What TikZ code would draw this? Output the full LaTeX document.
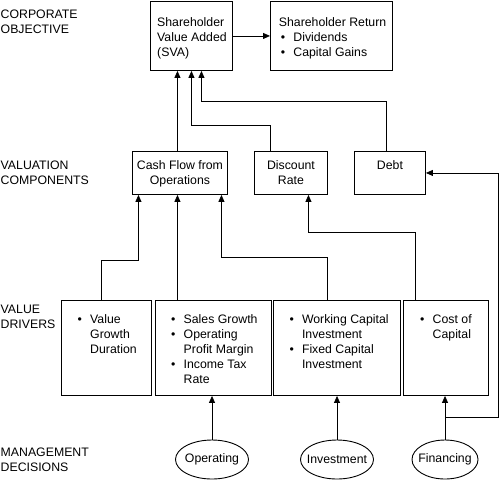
\documentclass[tikz,border=0pt]{standalone}
\usepackage{fontspec}
\setmainfont{Liberation Sans}
\usetikzlibrary{shapes.geometric, arrows.meta, calc}

\newcommand{\bul}{\makebox[12.5pt][l]{\textbullet}}

\begin{document}
\begin{tikzpicture}[x=1pt, y=-1pt,
          every node/.style={font=\fontsize{12.3}{15}\selectfont},
          box/.style={rectangle, draw, line width=0.9pt, anchor=north west,
                      inner sep=0pt},
          txt/.style={inner sep=0pt, anchor=north west},
          ctxt/.style={inner sep=0pt, anchor=north},
          dec/.style={ellipse, draw, line width=0.9pt, minimum width=73pt,
                      minimum height=39pt, inner sep=0pt},
          arr/.style={-{Triangle[length=7pt, width=6pt]}, line width=0.8pt}
        ]
        \useasboundingbox (0,0) rectangle (502,480);

        % Level labels
        \node[txt] (lco) at (0.5,7.9)   {\begin{tabular}{@{}l@{}}CORPORATE\\OBJECTIVE\end{tabular}};
        \node[txt] (lvc) at (0.5,158.9) {\begin{tabular}{@{}l@{}}VALUATION\\COMPONENTS\end{tabular}};
        \node[txt] (lvd) at (0.5,302.9) {\begin{tabular}{@{}l@{}}VALUE\\DRIVERS\end{tabular}};
        \node[txt] (lmd) at (0.5,445.9) {\begin{tabular}{@{}l@{}}MANAGEMENT\\DECISIONS\end{tabular}};

        % Corporate objective
        \node[box, minimum width=82pt, minimum height=69pt]  (sva) at (150,1) {};
        \node[box, minimum width=122pt, minimum height=69pt] (ret) at (270,1) {};
        \node[txt] at ($(sva.north west)+(7,15)$)
              {\begin{tabular}{@{}l@{}}Shareholder\\Value Added\\(SVA)\end{tabular}};
        \node[txt] at ($(ret.north west)+(8.7,15)$)
              {\begin{tabular}{@{}l@{}l@{}}\multicolumn{2}{@{}l@{}}{Shareholder Return}\\
               \hspace{2pt}\bul & Dividends\\ \hspace{2pt}\bul & Capital Gains\end{tabular}};

        % Valuation components
        \node[box, minimum width=95pt, minimum height=43pt] (cfo)  at (132,151) {};
        \node[box, minimum width=73pt, minimum height=43pt] (dr)   at (254,151) {};
        \node[box, minimum width=71pt, minimum height=43pt] (debt) at (354,151) {};
        \node[ctxt] at ($(cfo.north)+(0,7.8)$)
              {\begin{tabular}{@{}c@{}}Cash Flow from\\Operations\end{tabular}};
        \node[ctxt] at ($(dr.north)+(0,7.8)$)
              {\begin{tabular}{@{}c@{}}Discount\\Rate\end{tabular}};
        \node[ctxt] at ($(debt.north)+(0,7.8)$)
              {\begin{tabular}{@{}c@{}}Debt\end{tabular}};

        % Value drivers
        \node[box, minimum width=90pt,  minimum height=95pt] (vd1) at (61,300)  {};
        \node[box, minimum width=116pt, minimum height=95pt] (vd2) at (155,300) {};
        \node[box, minimum width=127pt, minimum height=95pt] (vd3) at (273,300) {};
        \node[box, minimum width=85pt,  minimum height=95pt] (vd4) at (403,300) {};
        \node[txt] at ($(vd1.north west)+(16.5,12.8)$)
              {\begin{tabular}{@{}l@{}l@{}}\bul & Value\\ & Growth\\ & Duration\end{tabular}};
        \node[txt] at ($(vd2.north west)+(16,12.8)$)
              {\begin{tabular}{@{}l@{}l@{}}\bul & Sales Growth\\ \bul & Operating\\
               & Profit Margin\\ \bul & Income Tax\\ & Rate\end{tabular}};
        \node[txt] at ($(vd3.north west)+(16.3,12.8)$)
              {\begin{tabular}{@{}l@{}l@{}}\bul & Working Capital\\ & Investment\\
               \bul & Fixed Capital\\ & Investment\end{tabular}};
        \node[txt] at ($(vd4.north west)+(17,12.8)$)
              {\begin{tabular}{@{}l@{}l@{}}\bul & Cost of\\ & Capital\end{tabular}};

        % Management decisions
        \node[dec] (op)  at (212,459.5) {\makebox[0pt]{Operating}};
        \node[dec] (inv) at (337,459.5) {\makebox[0pt]{Investment}};
        \node[dec, minimum width=66pt] (fin) at (445,459.5) {\makebox[0pt]{Financing}};

        % Arrows to the top
        \draw[arr] (sva) -- (ret);
        \draw[arr] ([xshift=-2.5pt]cfo.north) -- ([xshift=-2.5pt]cfo.north |- sva.south);
        \draw[arr] ([xshift=-20.5pt]dr.north) |- ++(0,-26) -| (sva.south);
        \draw[arr] ([xshift=-3.5pt]debt.north) |- ++(0,-50) -| ([xshift=10pt]sva.south);

        % Arrows to the components
        \draw[arr] ([xshift=-5pt]vd1.north) |- ++(0,-40) -| ([xshift=-41.5pt]cfo.south);
        \draw[arr] ([xshift=-2.5pt]cfo.south |- vd2.north) -- ([xshift=-2.5pt]cfo.south);
        \draw[arr] ([xshift=-9.5pt]vd3.north) |- ++(0,-43) -| ([xshift=41.5pt]cfo.south);
        \draw[arr] ([xshift=-30.5pt]vd4.north) |- ++(0,-68) -| ([xshift=17.5pt]dr.south);

        % Arrows from the decisions
        \draw[arr] (op.north)  -- (op.north |- vd2.south);
        \draw[arr] (inv.north) -- (inv.north |- vd3.south);
        \draw[arr] (fin.north) -- (fin.north |- vd4.south);
        \coordinate (jn) at ($(fin.north)!0.5!(fin.north |- vd4.south)$);
        \draw[arr] (jn) -- ++(53,0) |- (debt.east);
      \end{tikzpicture}
\end{document}
